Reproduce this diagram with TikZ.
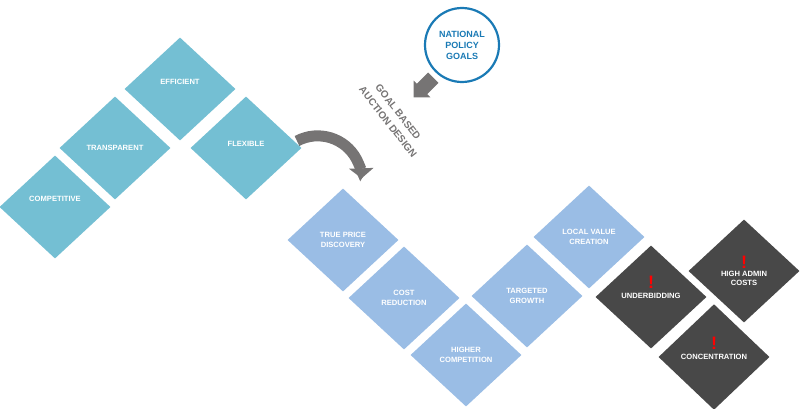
\documentclass[tikz,border=0pt]{standalone}
\usepackage{fontspec}
\setmainfont{Liberation Sans}
\usetikzlibrary{shapes.geometric,shapes.arrows,arrows.meta}
\definecolor{teal1}{HTML}{74BFD3}
\definecolor{lblue}{HTML}{9ABDE5}
\definecolor{dgray}{HTML}{484848}
\definecolor{agray}{HTML}{767474}
\definecolor{cblue}{HTML}{1A7AB5}
\begin{document}
\begin{tikzpicture}[x=1pt,y=1pt,
  dia/.style={diamond,inner sep=0pt,minimum width=111pt,minimum height=103pt,text=white,
    font=\fontsize{7.6}{9.5}\selectfont\bfseries,align=center},
  t/.style={dia,fill=teal1},
  b/.style={dia,fill=lblue},
  g/.style={dia,fill=dgray},
  rt/.style={rotate=-52,text=agray,font=\fontsize{10}{12}\selectfont\bfseries,inner sep=0pt}]
\useasboundingbox (0,0) rectangle (800,-409);
\node[t] (comp) at (55,-207) {COMPETITIVE\\[6pt]};
\node[t] (trans) at (115,-148) {TRANSPARENT};
\node[t] (eff) at (180,-89) {EFFICIENT\\[4pt]};
\node[t] (flex) at (246,-148) {FLEXIBLE\\[-2pt]};
\node[b] (tpd) at (343,-240) {TRUE PRICE\\DISCOVERY};
\node[b] (cost) at (404,-298) {COST\\REDUCTION};
\node[b] (hc) at (466,-355) {HIGHER\\COMPETITION};
\node[b] (tg) at (527,-296) {TARGETED\\GROWTH};
\node[b] (lvc) at (589,-237) {LOCAL VALUE\\CREATION};
\node[g] (ub) at (651,-297) {\textcolor{red}{\fontsize{18}{18}\selectfont !}\\[0pt]UNDERBIDDING\\[10pt]};
\node[g] (hac) at (744,-271) {\textcolor{red}{\fontsize{18}{18}\selectfont !}\\[-2pt]HIGH ADMIN\\COSTS};
\node[g] (conc) at (714,-357) {\textcolor{red}{\fontsize{18}{18}\selectfont !}\\[0pt]CONCENTRATION\\[8pt]};
\node[circle,draw=cblue,line width=2.2pt,minimum size=74pt,fill=white,text=cblue,
  font=\fontsize{9}{11}\selectfont\bfseries,align=center] (npg) at (462,-45) {NATIONAL\\POLICY\\GOALS};
\node[single arrow,fill=agray,minimum height=28pt,minimum width=24pt,single arrow head extend=4pt,
  inner xsep=0pt,inner ysep=6pt,rotate=-135] (ar) at (426,-85) {};
\node[rt] (gb) at (398,-112) {GOAL BASED};
\node[rt] (ad) at (388,-122) {AUCTION DESIGN};
\coordinate (arcstart) at (297,-141);
\draw[agray,line width=11pt,-{Triangle[length=10pt,width=24pt]}] (arcstart) arc[start angle=118,end angle=2,radius=44pt];
\end{tikzpicture}
\end{document}
